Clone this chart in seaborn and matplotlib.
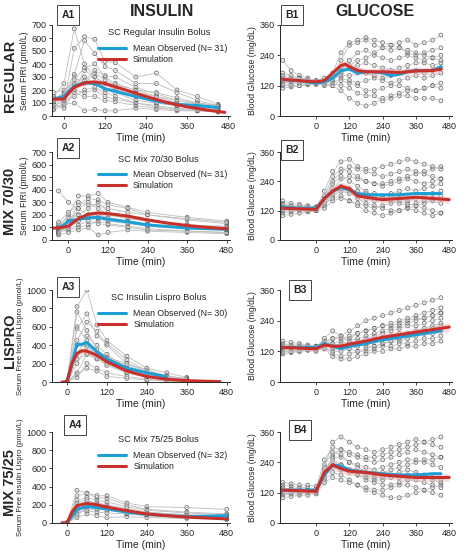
import numpy as np
import pandas as pd
import matplotlib
matplotlib.use("Agg")
import matplotlib.pyplot as plt
import seaborn as sns

sns.set_theme(style="ticks")
plt.rcParams['font.family'] = ['Liberation Sans', 'DejaVu Sans']

# ---------------- data ----------------
a1_t = [-30, 0, 30, 60, 90, 120, 150, 210, 270, 330, 390, 450]
a1_subj = [
    [150,250,670,400,300,250,220,180,150,120,100,80],
    [60,100,520,610,590,420,410,300,330,200,150,90],
    [130,180,320,580,480,380,350,250,250,180,120,80],
    [100,150,280,370,400,300,250,200,150,100,80,70],
    [50,80,200,350,300,250,200,150,100,80,60,50],
    [180,200,250,300,250,200,180,120,100,80,70,60],
    [80,120,150,200,220,180,150,100,80,60,50,40],
    [120,90,100,40,50,40,40,60,50,40,40,30],
    [140,160,300,250,330,280,240,200,180,140,100,80],
    [70,130,200,180,200,150,130,100,70,50,40,40],
    [110,170,240,270,350,310,300,220,170,120,90,70],
    [90,60,180,150,150,120,110,80,60,50,40,35],
]
a1_mean = [130,150,230,255,250,210,190,150,115,90,80,65]
a1_sim_t = [-30,0,15,30,60,90,120,180,240,300,360,420,470]
a1_sim = [130,130,180,220,255,262,250,200,150,105,70,45,28]

a2_t = [-30, 0, 30, 60, 90, 120, 180, 240, 360, 480]
a2_subj = [
    [390,300,250,200,180,160,150,120,100,90],
    [100,200,350,350,370,300,260,220,180,150],
    [60,120,300,280,280,250,220,200,160,130],
    [90,150,200,250,300,220,180,150,120,100],
    [50,100,150,200,200,180,150,120,100,80],
    [120,180,200,180,170,150,130,110,90,80],
    [70,80,100,120,150,130,110,90,70,60],
    [40,60,80,100,40,60,80,70,60,50],
    [100,130,250,300,250,200,170,150,120,110],
    [80,90,120,150,130,120,100,80,70,60],
    [140,220,280,330,320,280,250,200,170,140],
]
a2_mean = [90,150,165,175,180,165,145,120,95,85]
a2_sim_t = [-50,-30,0,30,60,90,120,180,240,300,360,420,480]
a2_sim = [95,95,110,170,205,215,210,190,160,135,115,100,90]

a3_t = [0, 30, 60, 90, 120, 180, 240, 300, 360]
a3_subj = [
    [0,820,1000,620,450,280,150,100,50],
    [0,580,740,500,420,240,120,60,30],
    [0,450,650,550,400,200,110,50,20],
    [0,300,500,400,300,150,80,40,20],
    [0,200,400,300,250,120,60,30,10],
    [0,100,300,250,200,100,50,20,10],
    [0,50,200,150,100,60,30,10,5],
    [0,400,380,290,220,140,90,50,20],
    [0,760,560,350,270,200,130,70,30],
    [0,250,300,260,180,100,60,30,15],
    [0,600,450,320,260,180,100,60,40],
    [0,80,150,120,60,40,20,10,5],
]
a3_mean_t = [0,30,45,60,90,120,180,240,300]
a3_mean = [0,410,410,430,330,250,150,100,55]
a3_sim_t = [-15,0,15,30,45,60,90,120,180,240,300,360,420,460]
a3_sim = [0,0,200,310,340,335,290,220,120,60,30,15,8,5]

a4_t = [0, 30, 60, 90, 120, 180, 240, 360, 480]
a4_subj = [
    [0,360,330,300,300,220,180,170,150],
    [0,300,320,280,270,200,150,120,100],
    [0,250,280,250,230,180,140,110,90],
    [0,200,240,220,200,160,120,90,80],
    [0,150,200,180,170,130,100,80,70],
    [0,100,150,150,140,110,90,70,60],
    [0,60,100,80,60,70,60,50,40],
    [0,80,180,200,180,140,100,70,50],
    [0,220,260,200,180,100,80,60,40],
    [0,130,130,120,110,100,90,80,70],
]
a4_mean_t = [-15,0,30,60,90,120,180,240,360,480]
a4_mean = [0,0,150,180,170,155,120,95,70,80]
a4_sim_t = [-15,0,15,30,60,90,120,180,240,300,360,420,480]
a4_sim = [0,0,120,190,215,200,175,135,100,80,65,55,45]

g_t = [-120,-90,-60,-30,0,30,60,90,120,150,180,210,240,270,300,330,360,390,420,450]
b1_subj = [
    [220,180,160,150,140,150,170,250,290,300,310,300,290,280,290,300,280,290,300,320],
    [160,150,150,140,135,140,160,220,280,290,300,280,270,260,270,250,240,250,260,270],
    [140,140,145,140,135,130,140,180,220,250,260,240,230,220,230,240,230,220,230,240],
    [120,125,130,130,130,125,140,170,190,200,210,200,190,180,190,200,210,210,200,210],
    [150,140,140,130,130,140,150,160,160,170,170,160,150,160,170,180,180,170,180,190],
    [110,115,120,125,130,135,130,150,140,130,140,150,140,130,140,150,160,150,160,170],
    [130,135,140,135,130,120,120,100,70,50,40,50,70,80,90,100,100,110,120,130],
    [170,160,150,145,140,135,130,120,110,90,80,80,60,70,80,80,70,70,70,60],
    [140,145,150,140,135,130,150,190,200,220,230,250,270,280,270,260,250,240,230,220],
    [125,120,120,125,125,130,120,140,130,120,100,100,110,120,120,110,100,110,120,110],
]
b1_mean = [145,140,140,135,130,135,150,180,185,170,175,175,170,160,165,175,180,180,180,195]
b1_sim_t = [-120,-60,0,30,60,90,105,120,150,180,240,300,360,420,450]
b1_sim = [145,140,135,140,170,200,205,195,180,175,175,172,178,180,185]

b2_subj = [
    [150,140,140,135,130,200,280,320,330,300,290,290,300,310,320,330,320,310,300,290],
    [130,130,125,125,120,170,240,280,300,290,280,270,260,270,280,290,280,270,260,250],
    [120,120,125,120,120,150,200,250,260,250,240,230,220,230,240,250,240,230,240,250],
    [140,135,130,130,130,160,210,220,210,200,190,190,180,190,200,210,200,210,220,230],
    [110,115,120,120,125,140,180,200,190,180,170,160,170,180,170,160,170,180,190,200],
    [100,105,110,115,120,130,160,170,160,150,140,130,140,150,160,150,140,150,160,150],
    [160,150,145,140,135,150,170,180,160,140,120,110,100,110,120,130,120,110,100,110],
    [135,130,130,125,125,160,230,260,240,220,200,180,170,160,150,140,150,160,170,180],
    [120,125,130,130,135,150,190,210,200,170,150,140,130,120,120,130,140,130,120,110],
    [145,140,135,135,130,180,260,290,280,260,240,230,230,240,250,260,270,280,290,300],
]
b2_mean = [135,132,130,130,130,170,200,215,205,190,185,185,185,185,185,188,190,190,190,190]
b2_sim_t = [-120,0,30,60,90,120,150,180,240,300,360,420,480]
b2_sim = [130,125,170,200,220,210,180,175,165,170,175,170,165]

b3_subj = [
    [130,135,130,135,130,150,170,180,200,220,240,250,260,270,280,290,300,310,320,330],
    [120,120,125,125,120,140,150,160,170,190,200,210,220,230,240,250,260,270,280,290],
    [140,140,140,135,135,145,140,150,160,170,180,190,200,210,220,230,240,250,260,270],
    [150,145,145,140,140,150,130,140,150,160,170,180,190,200,210,220,220,230,240,250],
    [110,115,120,125,125,130,120,120,130,140,150,160,170,180,190,190,200,210,220,230],
    [135,135,130,130,130,140,110,100,110,120,130,140,150,160,160,170,180,190,190,200],
    [125,130,135,135,140,160,150,140,130,120,120,130,140,140,150,150,160,170,170,180],
    [145,140,140,140,135,170,200,180,160,150,140,140,150,160,170,180,190,200,210,220],
    [115,120,120,125,130,130,100,90,90,100,110,120,120,130,130,140,140,150,150,160],
    [160,155,150,145,140,160,170,170,180,190,200,210,220,220,230,240,250,250,260,270],
]
b3_mean = [135,135,135,135,135,150,140,130,140,145,150,158,165,170,175,180,185,190,195,200]
b3_sim_t = [-120,0,30,60,90,120,180,240,300,360,420,480]
b3_sim = [135,130,145,140,140,148,160,175,185,195,205,215]

b4_subj = [
    [130,130,125,125,130,220,320,340,320,300,290,280,290,300,310,320,330,320,310,300],
    [150,145,140,140,135,250,300,290,270,260,250,240,250,260,270,280,290,280,270,260],
    [120,120,125,125,125,200,260,260,240,230,220,210,220,230,240,250,250,240,230,220],
    [110,115,115,120,120,180,230,230,210,200,190,180,180,190,200,210,200,190,180,170],
    [140,135,135,130,130,200,220,210,200,190,180,170,170,180,180,190,190,180,170,160],
    [100,105,110,110,115,160,180,170,160,150,140,130,130,140,150,150,140,130,120,110],
    [160,155,150,150,145,210,250,230,210,190,170,160,150,150,160,170,170,160,150,140],
    [125,125,130,130,130,190,270,290,280,270,260,260,270,280,290,300,310,320,330,340],
    [135,135,130,130,130,170,200,190,170,150,130,120,110,100,100,110,120,130,140,150],
    [115,120,120,125,125,230,280,270,240,220,200,190,200,210,220,230,240,250,250,260],
]
b4_mean = [130,130,130,130,130,190,230,225,210,205,200,198,195,192,190,190,190,192,195,195]
b4_sim_t = [-120,0,30,60,90,120,180,240,300,360,420,480]
b4_sim = [130,125,200,230,215,205,200,190,185,180,180,180]

row_labels = ["REGULAR", "MIX 70/30", "LISPRO", "MIX 75/25"]
a_titles = ["SC Regular Insulin Bolus", "SC Mix 70/30 Bolus", "SC Insulin Lispro Bolus", "SC Mix 75/25 Bolus"]
a_n = [31, 31, 30, 32]
a_ylabels = ["Serum FIRI (pmol/L)", "Serum FIRI (pmol/L)",
             "Serum Free Insulin Lispro (pmol/L)", "Serum Free Insulin Lispro (pmol/L)"]
a_ylabel_size = [6.2, 6.2, 5.5, 5.5]

# ---------------- layout ----------------
W, H = 474, 553
fig = plt.figure(figsize=(W/100, H/100), dpi=100)
rows_px = [(25, 116), (152, 240), (290, 382), (432, 523)]

def ax_px(x0, x1, y0, y1):
    return fig.add_axes([x0/W, 1-y1/H, (x1-x0)/W, (y1-y0)/H])

GREY = '#bdbdbd'
BLUE = '#1c9fd6'
RED = '#c9302c'

def long_df(t, subj):
    rows = []
    for i, s in enumerate(subj):
        for tt, v in zip(t, s):
            rows.append((i, tt, v))
    return pd.DataFrame(rows, columns=["subj", "time", "value"])

def draw(ax, t, subj, mt, mv, st, sv, xlim, ylim, yticks, ylabel, ylsize):
    df = long_df(t, subj)
    sns.lineplot(data=df, x="time", y="value", units="subj", estimator=None,
                 color=GREY, lw=0.6, ax=ax, legend=False)
    sns.scatterplot(data=df, x="time", y="value", ax=ax, marker='o', s=8,
                    facecolor='none', edgecolor='#666666', linewidth=0.55, legend=False)
    ax.fill_between(st, np.array(sv)*0.92, np.array(sv)*1.08, color='#f2b8b5', alpha=0.5, lw=0)
    sns.lineplot(x=mt, y=mv, color=BLUE, lw=2.2, ax=ax, label="Mean Observed")
    sns.lineplot(x=st, y=sv, color=RED, lw=2.2, ax=ax, label="Simulation")
    ax.set_xlim(*xlim)
    ax.set_ylim(*ylim)
    ax.set_xticks([0, 120, 240, 360, 480])
    ax.set_yticks(yticks)
    ax.tick_params(labelsize=6.5, length=2.5, width=0.6, pad=1.5)
    ax.set_xlabel("Time (min)", fontsize=7.5, labelpad=1.5)
    ax.set_ylabel(ylabel, fontsize=ylsize, labelpad=1.5)
    for s in ["top", "right"]:
        ax.spines[s].set_visible(False)
    for s in ["left", "bottom"]:
        ax.spines[s].set_linewidth(0.7)

a_data = [
    (a1_t, a1_subj, a1_t, a1_mean, a1_sim_t, a1_sim, (-35, 485), (0, 700), range(0, 701, 100)),
    (a2_t, a2_subj, a2_t, a2_mean, a2_sim_t, a2_sim, (-50, 490), (0, 700), range(0, 701, 100)),
    (a3_t, a3_subj, a3_mean_t, a3_mean, a3_sim_t, a3_sim, (-45, 490), (0, 1000), range(0, 1001, 200)),
    (a4_t, a4_subj, a4_mean_t, a4_mean, a4_sim_t, a4_sim, (-45, 490), (0, 1000), range(0, 1001, 200)),
]
b_data = [
    (b1_subj, b1_mean, b1_sim_t, b1_sim),
    (b2_subj, b2_mean, b2_sim_t, b2_sim),
    (b3_subj, b3_mean, b3_sim_t, b3_sim),
    (b4_subj, b4_mean, b4_sim_t, b4_sim),
]
a_box_px = [(68, 15), (68, 148), (68, 287), (75, 425)]
b_box_px = [(292, 15), (292, 150), (300, 290), (300, 430)]

for r in range(4):
    y0, y1 = rows_px[r]
    t, subj, mt, mv, st, sv, xl, yl, yt = a_data[r]
    axA = ax_px(52, 230, y0, y1)
    draw(axA, t, subj, mt, mv, st, sv, xl, yl, yt, a_ylabels[r], a_ylabel_size[r])
    axA.legend([axA.lines[-2], axA.lines[-1]],
               [f"Mean Observed (N= {a_n[r]})", "Simulation"],
               loc="upper right", bbox_to_anchor=(1.02, 0.86), frameon=False,
               fontsize=6.3, handlelength=3.2, labelspacing=0.2, borderpad=0.2)
    axA.text(0.6, 0.97, a_titles[r], transform=axA.transAxes, ha='center', va='top', fontsize=6.6)

    bs, bm, bst, bsv = b_data[r]
    axB = ax_px(280, 452, y0, y1)
    draw(axB, g_t, bs, g_t, bm, bst, bsv, (-130, 490), (0, 360), [0, 120, 240, 360],
         "Blood Glucose (mg/dL)", 6.2)
    if axB.get_legend():
        axB.get_legend().remove()

    yc = (y0 + y1) / 2 + 5
    fig.text(10/W, 1-yc/H, row_labels[r], rotation=90, ha='center', va='center',
             fontsize=10.5, fontweight='bold')
    for (cx, cy), lab in [(a_box_px[r], f"A{r+1}"), (b_box_px[r], f"B{r+1}")]:
        fig.text(cx/W, 1-cy/H, lab, ha='center', va='center', fontsize=7.5, fontweight='bold',
                 bbox=dict(boxstyle='square,pad=0.45', fc='white', ec='#444444', lw=0.7))

fig.text(162/W, 1-11/H, "INSULIN", ha='center', va='center', fontsize=11.5, fontweight='bold')
fig.text(375/W, 1-11/H, "GLUCOSE", ha='center', va='center', fontsize=11.5, fontweight='bold')

fig.savefig("out.png", dpi=100)
